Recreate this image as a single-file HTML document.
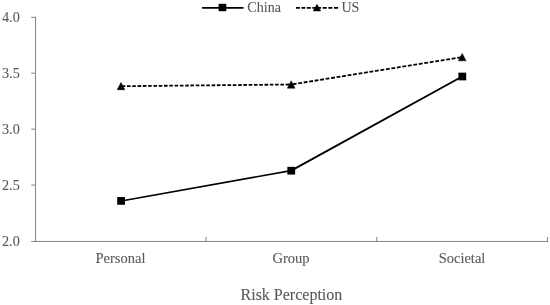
<!DOCTYPE html>
<html><head><meta charset="utf-8">
<style>
html,body{margin:0;padding:0;background:#fff;}
svg{display:block}
text{font-family:"Liberation Serif","Times New Roman",serif;fill:#595959;stroke:#595959;stroke-width:0.1px;}
</style></head><body>
<svg width="550" height="305" viewBox="0 0 550 305" xmlns="http://www.w3.org/2000/svg">
<rect width="550" height="305" fill="#fff"/>
<!-- axes -->
<g stroke="#7d7d7d" stroke-width="0.95" fill="none">
<path d="M35.55 16.8V242"/>
<path d="M31.2 17.35H35.5M31.2 73.2H35.5M31.2 129.15H35.5M31.2 185.1H35.5M31.2 241.45H35.5"/>
<path d="M35 241.45H548.1"/>
<path d="M206 241.4V237M376.7 241.4V237M547.55 241.4V237"/>
</g>
<!-- y labels -->
<g font-size="14.2" text-anchor="start">
<text x="2" y="21.9">4.0</text>
<text x="2" y="77.9">3.5</text>
<text x="2" y="133.9">3.0</text>
<text x="2" y="189.8">2.5</text>
<text x="2" y="245.7">2.0</text>
</g>
<!-- x labels -->
<g font-size="14.5" text-anchor="middle">
<text x="120.5" y="262.7">Personal</text>
<text x="291" y="262.7">Group</text>
<text x="462" y="262.7">Societal</text>
<text x="291.4" y="299.6" font-size="16">Risk Perception</text>
</g>
<!-- series -->
<path d="M121.2 201L291.2 170.6" fill="none" stroke="#000" stroke-width="1.65" stroke-linecap="round"/>
<path d="M291.2 170.6L462.2 76.5" fill="none" stroke="#000" stroke-width="1.95" stroke-linecap="round"/>
<g fill="none" stroke="#000" stroke-width="1.8">
<path d="M121 86.2L291.2 84.5" stroke-dasharray="3.6 1.69" stroke-dashoffset="4.6"/>
<path d="M291.2 84.5L462.2 57.1" stroke-dasharray="3.85 1.7" stroke-dashoffset="3.98"/>
</g>
<g fill="#000">
<rect x="117.20" y="197.05" width="7.8" height="7.7"/>
<rect x="287.35" y="166.85" width="7.8" height="7.7"/>
<rect x="458.40" y="72.65" width="7.8" height="7.7"/>
</g>
<g fill="#000" stroke="#000" stroke-width="0.5">
<path d="M121.0 82.40L124.85 89.75H117.15Z"/>
<path d="M291.2 80.70L295.05 88.15H287.35Z"/>
<path d="M462.2 53.40L466.05 60.80H458.35Z"/>
</g>
<!-- legend -->
<path d="M202 7.8H243.5" stroke="#000" stroke-width="1.7"/>
<rect x="218.6" y="3.8" width="7.7" height="7.4" fill="#000"/>
<text x="247.3" y="12.25" font-size="14.1">China</text>
<g stroke="#000" stroke-width="1.75" fill="none">
<path d="M296 7.8H317" stroke-dasharray="3.9 1.55"/>
<path d="M338.1 7.8H317" stroke-dasharray="4.1 1.6"/>
</g>
<g fill="#000" stroke="#000" stroke-width="0.5"><path d="M316.95 4.20L320.70 10.95H313.20Z"/></g>
<text x="341.4" y="12.25" font-size="14.1">US</text>
</svg>
</body></html>
